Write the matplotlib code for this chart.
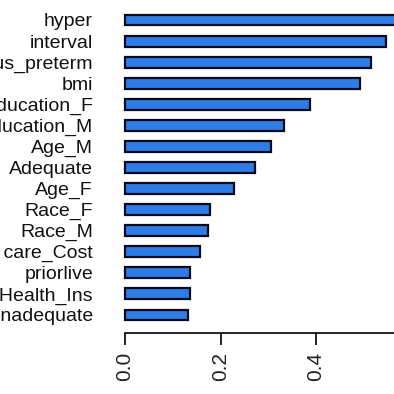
import matplotlib
matplotlib.use("Agg")
import matplotlib.pyplot as plt

labels = ["hyper", "interval", "previous_preterm", "bmi", "Education_F",
          "Education_M", "Age_M", "Adequate", "Age_F", "Race_F", "Race_M",
          "Prenatal care_Cost", "priorlive", "No_Health_Ins", "Inadequate"]
values = [0.58, 0.547, 0.515, 0.492, 0.387, 0.333, 0.306, 0.272, 0.228,
          0.178, 0.174, 0.157, 0.136, 0.136, 0.132]
xticks = [0.0, 0.2, 0.4]
xticklabels = ["0.0", "0.2", "0.4"]

plt.rcParams['font.family'] = ['Liberation Sans', 'DejaVu Sans']

fig = plt.figure(figsize=(3.94, 3.94), dpi=100)
W = 394.0
x0 = 125 / W
px_per_unit = 477.5
ax_w = 0.6 * px_per_unit / W
ax = fig.add_axes([x0, (394 - 333) / W, ax_w, 333 / W])

pos = list(range(len(labels)))
ax.barh(pos, values, height=0.52, color="#2E7DE6", edgecolor="#0a0a1e",
        linewidth=1.6, clip_on=False)
ax.set_xlim(0, 0.6)
ax.set_ylim(14.855, -0.949)

ax.set_yticks(pos)
ax.set_yticklabels(labels, fontsize=14, color="#111111")
ax.tick_params(axis='y', length=0, pad=23)
ax.set_xticks(xticks)
ax.set_xticklabels(xticklabels, rotation=90, fontsize=15, color="#222222")
ax.tick_params(axis='x', length=8.5, width=1.2, pad=5, direction='out')

for s in ["top", "right", "left"]:
    ax.spines[s].set_visible(False)
ax.spines["bottom"].set_linewidth(1.2)
ax.spines["bottom"].set_bounds(0, 0.6)

fig.savefig("out.png", dpi=100)
